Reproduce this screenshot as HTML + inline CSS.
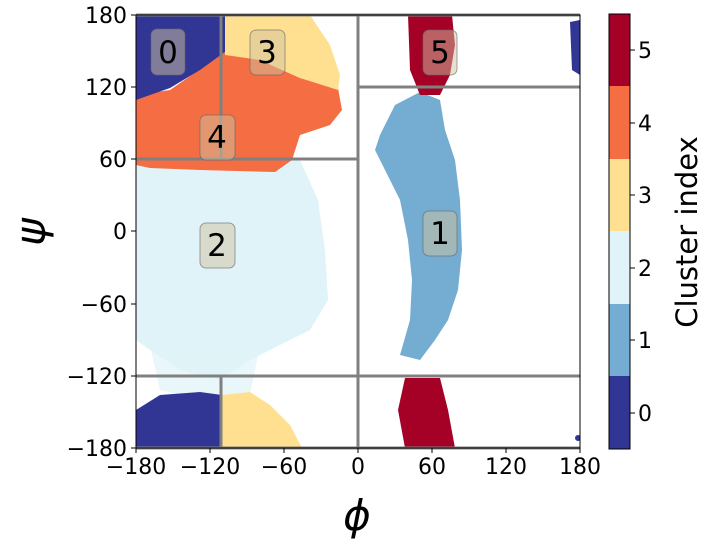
<!DOCTYPE html>
<html><head><meta charset="utf-8"><style>
body{margin:0;background:#fff}
svg{display:block}
text{font-family:"DejaVu Sans","Liberation Sans",sans-serif}
</style></head><body>
<svg width="708" height="547" viewBox="0 0 708 547" xmlns="http://www.w3.org/2000/svg">
<defs><clipPath id="c"><rect x="136" y="15" width="444" height="433"/></clipPath></defs>
<g clip-path="url(#c)">
<path d="M136,160 L300,160 L318,200 L325,250 L328,300 L310,330 L280,345 L250,360 L220,380 L180,370 L150,350 L136,340 Z" fill="#e0f3f8"/>
<path d="M150,345 L260,345 L250,395 L200,400 L160,390 Z" fill="#e0f3f8" opacity="0.7"/>
<path d="M136,95 L170,90 L225,52 L260,60 L300,78 L338,88 L342,110 L330,125 L300,135 L292,160 L275,172 L200,170 L150,168 L136,165 Z" fill="#f46d43"/>
<path d="M225,15 L310,15 L330,45 L340,75 L338,90 L300,78 L260,60 L225,55 Z" fill="#fee090"/>
<path d="M136,15 L225,15 L225,52 L200,70 L170,88 L150,95 L136,100 Z" fill="#313695"/>
<path d="M380,135 L395,105 L420,92 L440,100 L445,130 L455,160 L460,200 L462,250 L458,290 L448,320 L435,340 L420,360 L400,355 L410,320 L412,280 L408,240 L400,200 L385,170 L375,150 Z" fill="#74add1"/>
<path d="M408,15 L452,15 L455,45 L450,75 L440,95 L420,95 L410,70 Z" fill="#a50026"/>
<path d="M405,378 L440,378 L448,410 L455,448 L405,448 L398,410 Z" fill="#a50026"/>
<path d="M136,410 L160,395 L200,392 L222,395 L222,448 L136,448 Z" fill="#313695"/>
<path d="M222,395 L250,392 L270,405 L290,425 L302,448 L222,448 Z" fill="#fee090"/>
<path d="M570,22 L580,20 L580,75 L572,70 Z" fill="#313695"/>
<circle cx="578" cy="438" r="3" fill="#313695"/>
</g>
<g stroke="#808080" stroke-width="3" fill="none">
<line x1="358" y1="15" x2="358" y2="448"/>
<line x1="221" y1="15" x2="221" y2="159"/>
<line x1="221" y1="376" x2="221" y2="448"/>
<line x1="136" y1="159" x2="358" y2="159"/>
<line x1="358" y1="87" x2="580" y2="87"/>
<line x1="136" y1="376" x2="580" y2="376"/>
<line x1="136" y1="15" x2="580" y2="15"/>
<line x1="136" y1="448" x2="580" y2="448"/>
</g>
<rect x="136" y="15" width="444" height="433" fill="none" stroke="#000" stroke-width="1"/>
<g fill="#cfc29f" fill-opacity="0.5" stroke="#666" stroke-opacity="0.6">
<rect x="151" y="29" width="34" height="46" rx="6"/>
<rect x="250" y="30" width="35" height="45" rx="6"/>
<rect x="200" y="115" width="35" height="45" rx="6"/>
<rect x="200" y="223" width="35" height="45" rx="6"/>
<rect x="423" y="211" width="34" height="45" rx="6"/>
<rect x="423" y="30" width="34" height="45" rx="6"/>
</g>
<g font-size="31" text-anchor="middle" fill="#000">
<text x="168" y="63">0</text>
<text x="267" y="63">3</text>
<text x="217" y="148">4</text>
<text x="217" y="256">2</text>
<text x="440" y="244">1</text>
<text x="440" y="63">5</text>
</g>
<g stroke="#000" stroke-width="1">
<line x1="136" y1="448" x2="136" y2="453"/><line x1="210" y1="448" x2="210" y2="453"/><line x1="284" y1="448" x2="284" y2="453"/><line x1="358" y1="448" x2="358" y2="453"/><line x1="432" y1="448" x2="432" y2="453"/><line x1="506" y1="448" x2="506" y2="453"/><line x1="580" y1="448" x2="580" y2="453"/>
<line x1="131" y1="15" x2="136" y2="15"/><line x1="131" y1="87" x2="136" y2="87"/><line x1="131" y1="159" x2="136" y2="159"/><line x1="131" y1="231" x2="136" y2="231"/><line x1="131" y1="304" x2="136" y2="304"/><line x1="131" y1="376" x2="136" y2="376"/><line x1="131" y1="448" x2="136" y2="448"/>
</g>
<g font-size="22" text-anchor="middle">
<text x="136" y="474">−180</text><text x="210" y="474">−120</text><text x="284" y="474">−60</text><text x="358" y="474">0</text><text x="432" y="474">60</text><text x="506" y="474">120</text><text x="580" y="474">180</text>
</g>
<g font-size="22" text-anchor="end">
<text x="127" y="23">180</text><text x="127" y="95">120</text><text x="127" y="167">60</text><text x="127" y="239">0</text><text x="127" y="312">−60</text><text x="127" y="384">−120</text><text x="127" y="456">−180</text>
</g>
<text x="357" y="530" font-size="42" font-style="italic" text-anchor="middle">ϕ</text>
<text x="45" y="232" font-size="42" font-style="italic" text-anchor="middle" transform="rotate(-90 45 232)">ψ</text>
<rect x="609" y="14" width="21" height="73" fill="#a50026"/>
<rect x="609" y="86" width="21" height="73" fill="#f46d43"/>
<rect x="609" y="159" width="21" height="73" fill="#fee090"/>
<rect x="609" y="231" width="21" height="73" fill="#e0f3f8"/>
<rect x="609" y="304" width="21" height="73" fill="#74add1"/>
<rect x="609" y="376" width="21" height="73" fill="#313695"/>
<rect x="609" y="14" width="21" height="435" fill="none" stroke="#000" stroke-width="1"/>
<g stroke="#000"><line x1="630" y1="413" x2="635" y2="413"/><line x1="630" y1="340" x2="635" y2="340"/><line x1="630" y1="268" x2="635" y2="268"/><line x1="630" y1="195" x2="635" y2="195"/><line x1="630" y1="123" x2="635" y2="123"/><line x1="630" y1="50" x2="635" y2="50"/></g>
<g font-size="22"><text x="638" y="421">0</text><text x="638" y="348">1</text><text x="638" y="276">2</text><text x="638" y="203">3</text><text x="638" y="131">4</text><text x="638" y="58">5</text></g>
<text x="697" y="232" font-size="29" text-anchor="middle" transform="rotate(-90 697 232)">Cluster index</text>
</svg>
</body></html>
